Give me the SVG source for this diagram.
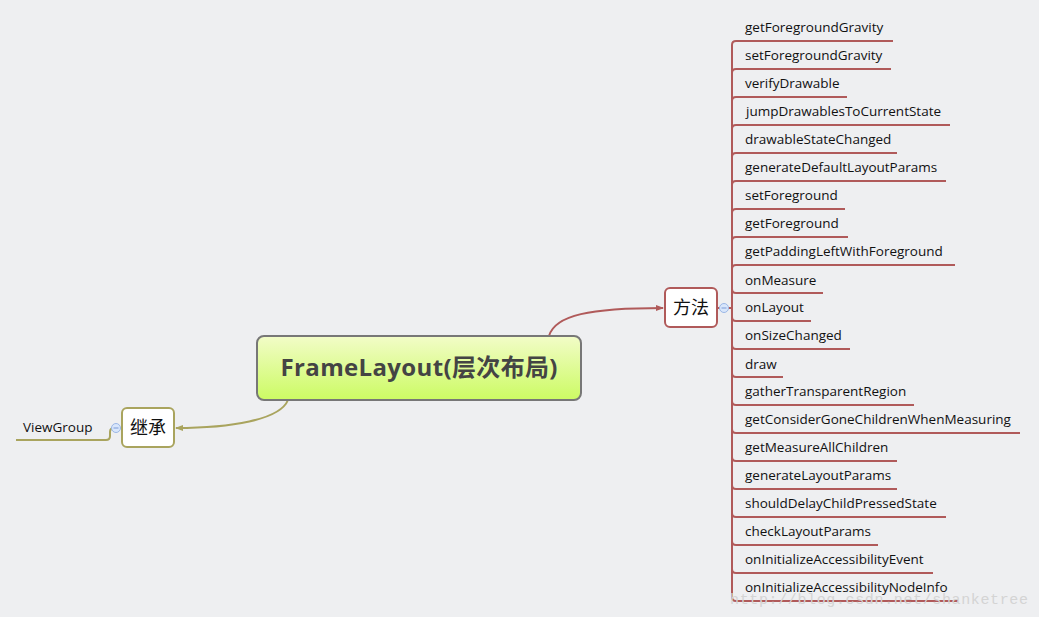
<svg xmlns="http://www.w3.org/2000/svg" width="1039" height="617" viewBox="0 0 1039 617">
<defs>
<linearGradient id="g" x1="0" y1="0" x2="0" y2="1"><stop offset="0" stop-color="#f2fcc8"/><stop offset="1" stop-color="#ccfb63"/></linearGradient>
<marker id="ar" markerWidth="8" markerHeight="8" refX="7" refY="4" orient="auto" markerUnits="userSpaceOnUse"><path d="M0,1 L8,4 L0,7 z" fill="context-stroke"/></marker>
<style>
text{font-family:"Open Sans","Noto Sans","Noto Sans CJK SC",sans-serif;fill:#111}
.it{font-size:13.5px}
.r{stroke:#b05a5a;stroke-width:2;fill:none}
.o{stroke:#a9a45e;stroke-width:2;fill:none}
.c{fill:#d8e6fb;stroke:#9bb7e6;stroke-width:1}
</style>
</defs>
<rect width="1039" height="617" fill="#eeeff1"/>
<g id="connectors">
<path class="o" d="M288,400 C280,420 230,428 176,428" marker-end="url(#ar)"/>
<path class="r" d="M549,336 C555,315 590,308 663,308" marker-end="url(#ar)"/>
<path class="o" d="M16,440 H106 Q110,440 110,436 V432 Q110,428 114,428"/>
<path class="r" d="M718,308 H732"/>
<path class="r" d="M732,45 V597"/>
<g class="r">
<path d="M732,45 Q732,41 736,41 H893"/>
<path d="M732,73 Q732,69 736,69 H891"/>
<path d="M732,101 Q732,97 736,97 H847"/>
<path d="M732,129 Q732,125 736,125 H950"/>
<path d="M732,157 Q732,153 736,153 H897"/>
<path d="M732,185 Q732,181 736,181 H946"/>
<path d="M732,213 Q732,209 736,209 H845"/>
<path d="M732,241 Q732,237 736,237 H848"/>
<path d="M732,269 Q732,265 736,265 H955"/>
<path d="M732,289 Q732,293 736,293 H823"/>
<path d="M732,317 Q732,321 736,321 H811"/>
<path d="M732,345 Q732,349 736,349 H850"/>
<path d="M732,373 Q732,377 736,377 H783"/>
<path d="M732,401 Q732,405 736,405 H914"/>
<path d="M732,429 Q732,433 736,433 H1020"/>
<path d="M732,457 Q732,461 736,461 H897"/>
<path d="M732,485 Q732,489 736,489 H897"/>
<path d="M732,513 Q732,517 736,517 H946"/>
<path d="M732,541 Q732,545 736,545 H878"/>
<path d="M732,569 Q732,573 736,573 H933"/>
<path d="M732,597 Q732,601 736,601 H958"/>
</g>
</g>
<g id="center"><rect x="257" y="336" width="324" height="64" rx="7" fill="url(#g)" stroke="#777" stroke-width="2"/>
<text x="419" y="376" text-anchor="middle" font-size="24" font-weight="bold" textLength="277" style="fill:#444">FrameLayout(层次布局)</text></g>
<g id="fangfa"><rect x="665" y="288" width="52" height="39" rx="5" fill="#fff" stroke="#b05a5a" stroke-width="2"/><text x="691" y="314" text-anchor="middle" font-size="18">方法</text><circle class="c" cx="724" cy="308" r="4.5"/><path d="M721.5,308H726.5" stroke="#7a9ad6"/></g>
<g id="jicheng"><rect x="122" y="408" width="52" height="39" rx="5" fill="#fff" stroke="#a9a45e" stroke-width="2"/><text x="148" y="434" text-anchor="middle" font-size="18">继承</text><circle class="c" cx="116" cy="428" r="4.5"/><path d="M113.5,428H118.5" stroke="#7a9ad6"/></g>
<g id="viewgroup"><text class="it" x="23" y="432">ViewGroup</text></g>
<g id="methods" class="it">
<text x="745" y="32">getForegroundGravity</text>
<text x="745" y="60">setForegroundGravity</text>
<text x="745" y="88">verifyDrawable</text>
<text x="746" y="116">jumpDrawablesToCurrentState</text>
<text x="745" y="144">drawableStateChanged</text>
<text x="745" y="172">generateDefaultLayoutParams</text>
<text x="745" y="200">setForeground</text>
<text x="745" y="228">getForeground</text>
<text x="745" y="256">getPaddingLeftWithForeground</text>
<text x="745" y="285">onMeasure</text>
<text x="745" y="312">onLayout</text>
<text x="745" y="340">onSizeChanged</text>
<text x="745" y="369">draw</text>
<text x="745" y="396">gatherTransparentRegion</text>
<text x="745" y="424">getConsiderGoneChildrenWhenMeasuring</text>
<text x="745" y="452">getMeasureAllChildren</text>
<text x="745" y="480">generateLayoutParams</text>
<text x="745" y="508">shouldDelayChildPressedState</text>
<text x="745" y="536">checkLayoutParams</text>
<text x="745" y="564">onInitializeAccessibilityEvent</text>
<text x="745" y="592">onInitializeAccessibilityNodeInfo</text>
</g>
<text x="730" y="604" font-size="15" textLength="298" style="fill:#d4d4d4;font-family:'Liberation Mono',monospace">http://blog.csdn.net/shanketree</text>
</svg>
